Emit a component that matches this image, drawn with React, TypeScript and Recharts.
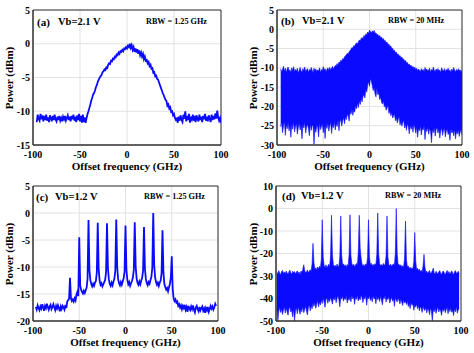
import React from 'react';
import { ComposedChart, Line, Area, XAxis, YAxis, CartesianGrid, ReferenceArea } from 'recharts';

// ---------- data ----------
const xTicks = [-100, -50, 0, 50, 100];

// (a) Vb=2.1 V, RBW 1.25 GHz, samples every 1 GHz starting at -96 GHz
const startA = -96;
const powerA = [
  -11.6,-10.5,-11.1,-11.4,-10.4,-11.2,-10.6,-11.5,-10.7,-11.3,
  -10.5,-11.4,-10.9,-11.6,-10.6,-11.0,-11.5,-10.7,-11.3,-10.5,
  -11.2,-11.5,-10.8,-11.3,-10.7,-11.4,-11.0,-11.5,-10.8,-11.2,
  -10.7,-11.4,-11.0,-10.6,-11.3,-10.8,-11.5,-10.7,-11.2,-10.5,
  -11.4,-10.8,-11.6,-10.6,-11.3,-10.4,-11.5,-10.7,-11.7,-10.5,
  -11.6,-10.9,-11.7,-11.0,-10.4,-10.0,-9.5,-9.0,-8.4,-8.0,
  -7.5,-7.3,-6.9,-6.4,-6.1,-5.6,-5.3,-5.0,-4.8,-4.6,
  -4.2,-4.1,-3.8,-3.9,-3.5,-3.6,-3.1,-2.9,-3.0,-2.5,
  -2.6,-2.2,-2.3,-1.9,-2.0,-1.6,-1.7,-1.3,-1.5,-1.1,
  -1.2,-0.9,-1.1,-0.7,-0.8,-0.5,-0.7,-0.3,-0.5,0.0,
  -0.6,-0.2,-0.9,-0.5,-1.2,-0.7,-1.3,-0.8,-1.5,-1.0,
  -1.7,-1.3,-1.9,-1.5,-2.3,-1.9,-2.5,-2.4,-2.9,-2.7,
  -3.3,-3.1,-3.7,-3.6,-4.3,-4.2,-4.8,-4.7,-5.2,-5.3,
  -5.7,-6.1,-6.5,-6.9,-7.3,-7.6,-8.0,-8.3,-8.5,-9.2,
  -9.0,-9.6,-9.4,-10.1,-10.0,-10.6,-10.4,-11.0,-11.3,-11.1,
  -11.7,-10.8,-11.4,-10.6,-11.3,-11.6,-10.5,-11.1,-10.0,-11.5,
  -10.7,-11.3,-10.4,-11.7,-10.8,-11.2,-10.5,-11.4,-10.7,-11.6,
  -10.6,-11.1,-11.5,-10.5,-11.3,-10.8,-11.6,-10.7,-11.2,-10.4,
  -11.4,-10.8,-11.5,-10.6,-11.1,-11.6,-10.5,-11.3,-10.7,-11.2,
  -10.3,-11.1,-9.9,-10.9,-11.4,-11.0,-11.7,
];

// (b) Vb=2.1 V, RBW 20 MHz: upper / lower envelope, every 1 GHz from -96 GHz
const startB = -96;
const upperB = [
  -10.2,-11.0,-10.4,-9.6,-10.8,-10.1,-11.2,-10.3,-9.8,-10.9,
  -10.5,-11.3,-10.0,-10.7,-9.7,-11.0,-10.4,-10.9,-10.1,-11.4,
  -10.6,-9.9,-10.8,-11.1,-10.2,-10.7,-9.8,-11.0,-10.5,-10.2,
  -11.2,-10.4,-10.8,-9.9,-10.6,-11.3,-10.1,-10.7,-10.3,-11.0,
  -10.5,-10.9,-10.0,-11.2,-10.4,-10.8,-9.7,-10.6,-10.2,-11.0,
  -10.4,-10.0,-10.7,-9.9,-10.5,-10.1,-9.6,-10.3,-9.8,-9.4,
  -9.5,-8.9,-9.3,-8.5,-8.7,-8.0,-8.3,-7.6,-7.8,-7.1,
  -6.9,-6.6,-6.2,-6.4,-5.8,-5.5,-5.2,-4.7,-4.9,-4.2,
  -4.4,-3.8,-3.5,-3.9,-3.2,-2.8,-3.0,-2.4,-2.1,-2.5,
  -1.6,-1.9,-1.2,-1.4,-0.7,-1.1,-0.2,-0.6,-1.0,-0.4,
  -0.8,-0.3,-1.1,-0.9,-1.5,-1.3,-1.9,-1.6,-2.2,-2.0,
  -2.6,-2.4,-3.0,-2.9,-3.5,-3.3,-4.0,-3.8,-4.5,-4.3,
  -5.0,-4.9,-5.6,-5.4,-6.1,-5.9,-6.5,-6.4,-7.0,-6.8,
  -7.4,-7.2,-7.8,-7.7,-8.3,-8.1,-8.7,-8.6,-9.2,-9.0,
  -9.5,-9.3,-9.9,-9.6,-10.2,-9.8,-10.5,-10.1,-10.8,-10.3,
  -10.6,-11.0,-10.2,-10.7,-10.4,-11.1,-9.9,-10.6,-10.3,-10.9,
  -10.5,-10.1,-11.2,-10.4,-10.8,-9.8,-10.6,-11.0,-10.3,-10.7,
  -10.2,-10.9,-10.5,-11.3,-10.0,-10.6,-10.8,-10.2,-11.1,-10.4,
  -10.7,-10.1,-10.9,-10.5,-11.2,-10.3,-10.8,-9.9,-10.6,-11.0,
  -10.4,-10.9,-10.2,-10.7,-10.5,-11.1,-10.6,
];
const lowerB = [
  -25.3,-24.1,-26.8,-25.0,-23.9,-27.5,-24.6,-25.8,-24.2,-26.3,
  -25.1,-28.0,-24.5,-25.9,-24.0,-26.6,-25.2,-24.4,-27.2,-25.5,
  -24.3,-26.1,-25.0,-28.4,-24.7,-25.6,-24.1,-26.9,-25.3,-24.6,
  -25.8,-27.6,-24.4,-26.2,-25.1,-24.8,-29.8,-25.5,-26.7,-24.9,
  -25.4,-27.9,-24.2,-26.0,-25.2,-24.5,-26.8,-25.0,-28.3,-24.6,
  -25.7,-24.3,-26.4,-25.1,-24.0,-27.0,-24.8,-25.5,-23.9,-26.1,
  -24.4,-25.2,-23.6,-26.3,-24.0,-23.3,-25.1,-23.7,-22.9,-24.5,
  -22.8,-23.4,-21.9,-22.6,-23.8,-21.4,-22.0,-20.7,-22.3,-20.9,
  -21.5,-19.8,-20.6,-19.2,-20.3,-18.6,-19.5,-18.0,-18.8,-17.4,
  -16.9,-17.8,-15.6,-16.3,-14.5,-13.6,-14.8,-12.8,-13.5,-14.6,
  -15.9,-15.1,-16.8,-17.5,-15.3,-17.0,-16.4,-18.2,-17.6,-18.9,
  -19.4,-18.5,-20.1,-19.6,-21.0,-20.4,-19.7,-21.8,-21.2,-22.4,
  -21.6,-23.0,-22.5,-21.9,-23.7,-22.8,-24.3,-23.4,-22.6,-24.8,
  -23.9,-25.1,-24.2,-23.5,-25.6,-24.7,-26.2,-24.4,-25.3,-27.1,
  -24.8,-25.9,-25.0,-26.7,-24.6,-25.5,-26.9,-25.2,-28.0,-25.7,
  -26.3,-24.9,-27.4,-25.6,-26.1,-25.0,-28.6,-25.8,-26.5,-25.3,
  -27.2,-25.7,-26.4,-29.4,-25.9,-26.8,-25.4,-27.7,-26.0,-25.5,
  -26.9,-25.8,-28.2,-26.3,-25.6,-27.5,-26.1,-25.7,-27.9,-26.4,
  -25.9,-27.3,-26.6,-28.8,-25.8,-26.9,-26.2,-27.6,-25.9,-28.4,
  -26.5,-27.1,-26.0,-27.8,-26.7,-25.9,-27.4,
];

// (c) Vb=1.2 V, RBW 1.25 GHz, every 1 GHz from -97 GHz
const startC = -97;
const powerC = [
  -17.4,-17.9,-17.1,-17.6,-18.0,-17.3,-17.7,-16.9,-17.5,-18.1,
  -17.2,-17.6,-16.8,-17.4,-17.9,-17.3,-17.0,-17.8,-17.4,-16.9,
  -17.5,-18.0,-17.2,-17.7,-17.1,-17.6,-18.2,-17.3,-17.8,-17.2,
  -17.5,-17.9,-17.0,-17.6,-16.4,-16.1,-15.9,-12.0,-15.8,-16.3,
  -16.0,-16.4,-15.8,-16.2,-15.1,-14.6,-15.4,-4.5,-13.4,-14.2,
  -14.6,-14.9,-14.4,-14.8,-14.3,-13.8,-12.1,-1.3,-10.6,-12.4,
  -13.2,-13.6,-13.1,-13.5,-12.9,-12.6,-11.0,-1.8,-10.4,-12.5,
  -13.3,-13.0,-13.6,-13.2,-12.8,-12.4,-10.9,-1.9,-10.2,-12.3,
  -13.1,-13.5,-12.9,-13.4,-12.7,-12.2,-10.6,-1.2,-10.0,-12.2,
  -13.0,-13.4,-12.8,-13.3,-12.7,-12.1,-10.8,-2.3,-10.5,-12.4,
  -13.2,-12.8,-13.5,-13.0,-12.6,-11.9,-10.5,-1.7,-9.9,-12.1,
  -12.9,-13.3,-12.7,-13.2,-12.5,-12.0,-10.7,-2.6,-10.3,-12.2,
  -13.0,-13.4,-12.8,-13.1,-12.4,-11.8,-10.1,0.0,-9.6,-11.9,
  -12.8,-13.3,-12.9,-13.5,-12.9,-12.5,-11.2,-3.2,-11.0,-13.1,
  -13.7,-14.2,-13.9,-14.5,-13.8,-13.1,-12.0,-8.0,-14.0,-15.8,
  -16.3,-16.0,-16.6,-16.4,-17.2,-16.9,-17.5,-17.1,-17.8,-17.2,
  -17.6,-17.0,-17.9,-17.4,-18.3,-17.2,-17.7,-18.0,-17.3,-17.8,
  -17.1,-17.9,-18.4,-17.5,-17.2,-17.8,-18.2,-17.4,-18.0,-17.6,
  -17.3,-18.1,-17.7,-18.5,-17.6,-18.0,-17.4,-18.3,-17.8,-17.2,
  -17.7,-17.3,-17.9,-17.5,-16.8,-17.2,
];

// (d) Vb=1.2 V, RBW 20 MHz: upper / lower envelope, every 1 GHz from -99 GHz
const startD = -99;
const upperD = [
  -28.3,-29.1,-27.6,-28.8,-29.4,-28.0,-27.5,-28.9,-28.2,-29.0,
  -27.8,-28.6,-29.3,-28.1,-27.4,-28.7,-29.2,-27.9,-28.5,-28.0,
  -29.1,-28.3,-27.7,-28.9,-28.2,-29.4,-27.8,-28.4,-27.0,-25.0,
  -27.6,-28.7,-28.1,-27.3,-28.6,-27.9,-27.2,-28.0,-24.5,-15.5,
  -24.0,-27.1,-26.3,-27.4,-26.0,-26.8,-25.7,-26.5,-22.5,-5.0,
  -21.5,-25.3,-26.2,-25.0,-26.4,-25.6,-24.8,-26.0,-21.0,-3.0,
  -20.5,-24.9,-25.8,-25.2,-26.1,-24.7,-25.5,-25.9,-21.3,-3.3,
  -20.8,-25.1,-24.6,-25.7,-25.0,-26.2,-24.9,-25.4,-20.6,-2.8,
  -21.0,-24.5,-25.6,-24.8,-25.9,-25.1,-24.4,-25.3,-19.0,-3.0,
  -17.5,-22.0,-24.7,-25.5,-24.9,-25.8,-24.6,-25.2,-21.4,-5.0,
  -21.2,-25.0,-24.3,-25.6,-24.8,-25.4,-24.5,-25.1,-20.3,-2.0,
  -20.0,-24.6,-25.3,-24.9,-25.7,-24.4,-25.2,-24.8,-21.0,-3.3,
  -21.5,-24.9,-25.5,-24.7,-25.8,-25.0,-24.6,-25.3,-20.0,0.0,
  -19.8,-25.1,-24.8,-25.6,-25.0,-26.1,-25.4,-25.9,-22.0,-5.6,
  -22.5,-26.0,-25.5,-26.6,-26.1,-27.0,-26.3,-26.9,-23.5,-10.7,
  -23.0,-27.2,-26.5,-27.6,-27.0,-28.1,-27.4,-28.3,-25.5,-20.4,
  -26.0,-28.5,-27.8,-28.9,-28.2,-27.5,-29.1,-28.4,-27.7,-26.5,
  -28.6,-29.2,-27.9,-28.5,-29.0,-28.2,-27.6,-28.8,-29.3,-28.1,
  -27.8,-28.7,-29.4,-28.3,-27.5,-28.9,-28.0,-29.2,-28.4,-27.7,
  -28.8,-29.3,-28.1,-27.6,-28.9,-28.4,-27.9,-29.0,
];
const lowerD = [
  -44.5,-50.0,-45.8,-43.9,-46.2,-44.8,-47.1,-45.3,-43.6,-46.5,
  -44.2,-45.9,-47.4,-44.7,-43.8,-46.0,-45.1,-48.2,-44.4,-50.0,
  -45.6,-44.1,-46.8,-43.7,-45.4,-47.0,-44.6,-45.9,-43.5,-46.3,
  -44.9,-43.4,-45.7,-47.3,-44.0,-42.8,-45.5,-43.2,-44.6,-42.0,
  -43.5,-41.8,-44.3,-42.6,-40.9,-43.8,-41.5,-42.9,-40.6,-42.2,
  -39.8,-41.6,-43.9,-40.5,-39.6,-42.1,-40.2,-41.4,-39.3,-40.8,
  -42.5,-39.5,-40.7,-39.1,-41.9,-40.0,-38.8,-40.6,-43.7,-39.4,
  -40.3,-38.9,-41.2,-39.7,-40.5,-38.6,-42.0,-39.9,-40.8,-39.2,
  -41.5,-38.7,-40.1,-39.4,-42.6,-39.0,-40.4,-38.5,-41.1,-39.8,
  -40.6,-38.4,-39.7,-41.8,-39.2,-40.3,-38.6,-43.0,-39.5,-40.1,
  -38.8,-40.9,-39.3,-41.5,-38.7,-40.2,-39.6,-42.3,-39.0,-40.5,
  -39.4,-41.3,-38.9,-40.7,-42.8,-39.5,-40.1,-38.7,-41.6,-39.9,
  -40.4,-39.1,-42.0,-40.6,-39.3,-41.2,-40.0,-43.5,-39.6,-40.8,
  -41.5,-39.8,-40.9,-42.4,-40.3,-41.7,-43.1,-40.6,-42.0,-41.2,
  -42.7,-41.0,-43.6,-42.2,-44.5,-41.8,-43.0,-42.5,-45.2,-42.9,
  -43.8,-42.4,-44.6,-43.1,-45.5,-43.7,-44.3,-46.2,-43.4,-44.9,
  -45.3,-43.9,-46.4,-44.5,-45.0,-47.2,-44.2,-45.6,-50.0,-44.8,
  -45.9,-44.3,-46.6,-45.1,-43.8,-46.0,-44.7,-45.4,-47.5,-44.6,
  -45.7,-44.1,-46.3,-45.0,-43.9,-46.8,-44.5,-45.8,-44.2,-46.1,
  -45.2,-47.6,-44.4,-45.9,-43.7,-46.5,-45.1,-44.6,
];

const yTicksA = [-15, -10, -5, 0, 5];
const yTicksB = [-30, -25, -20, -15, -10, -5, 0, 5];
const yTicksC = [-20, -15, -10, -5, 0, 5];
const yTicksD = [-50, -40, -30, -20, -10, 0, 10];

// ---------- tables ----------
const lineRows = (start: number, vals: number[]) => vals.map((v, i) => ({ f: start + i, v }));
const bandRows = (start: number, hi: number[], lo: number[]) =>
  hi.map((h, i) => ({ f: start + i, band: [lo[i], h] }));

const dataA = lineRows(startA, powerA);
const dataB = bandRows(startB, upperB, lowerB);
const dataC = lineRows(startC, powerC);
const dataD = bandRows(startD, upperD, lowerD);

// ---------- styling ----------
const SERIF = '"Liberation Serif", "Times New Roman", serif';
const BLUE = '#0a0aff';
const FRAME = '#333';
const tickStyle = { fontFamily: SERIF, fontWeight: 700, fontSize: 10, fill: '#000' };

type PanelProps = {
  left: number; top: number; width: number; height: number;
  margin: { top: number; right: number; bottom: number; left: number };
  yWidth: number; yTicks: number[]; data: any[]; band?: boolean;
};

function Panel({ left, top, width, height, margin, yWidth, yTicks, data, band }: PanelProps) {
  const yMin = yTicks[0];
  const yMax = yTicks[yTicks.length - 1];
  return (
    <div style={{ position: 'absolute', left, top, width, height }}>
      <ComposedChart width={width} height={height} data={data} margin={margin}>
        <CartesianGrid stroke="#e2e2e2" strokeWidth={1} />
        <XAxis
          dataKey="f" type="number" domain={[-100, 100]} ticks={xTicks} interval={0}
          allowDataOverflow height={30} axisLine={{ stroke: FRAME }} tickLine={false}
          tickSize={0} tickMargin={6} tick={tickStyle}
        />
        <YAxis
          type="number" domain={[yMin, yMax]} ticks={yTicks} interval={0}
          allowDataOverflow width={yWidth} axisLine={{ stroke: FRAME }} tickLine={false}
          tickSize={0} tickMargin={3} tick={tickStyle}
        />
        {band ? (
          <Area
            dataKey="band" type="linear" stroke={BLUE} strokeWidth={0.6}
            fill={BLUE} fillOpacity={1} isAnimationActive={false} dot={false} activeDot={false}
          />
        ) : (
          <Line
            dataKey="v" type="linear" stroke={BLUE} strokeWidth={1.8}
            dot={false} activeDot={false} isAnimationActive={false}
          />
        )}
        <ReferenceArea x1={-100} x2={100} y1={yMin} y2={yMax} fill="none" fillOpacity={0} stroke={FRAME} strokeWidth={1} ifOverflow="visible" />
      </ComposedChart>
    </div>
  );
}

function Txt({ x, y, size, children }: { x: number; y: number; size: number; children: React.ReactNode }) {
  return (
    <div style={{
      position: 'absolute', left: x, top: y - size / 2, fontFamily: SERIF, fontWeight: 700,
      fontSize: size, lineHeight: `${size}px`, whiteSpace: 'nowrap', color: '#000',
    }}>{children}</div>
  );
}

function XTitle({ cx, cy }: { cx: number; cy: number }) {
  return (
    <div style={{
      position: 'absolute', left: cx - 80, top: cy - 6, width: 160, textAlign: 'center',
      fontFamily: SERIF, fontWeight: 700, fontSize: 11, lineHeight: '12px', color: '#000', whiteSpace: 'nowrap',
    }}>Offset frequency (GHz)</div>
  );
}

function YTitle({ cx, cy }: { cx: number; cy: number }) {
  return (
    <div style={{
      position: 'absolute', left: cx - 50, top: cy - 6, width: 100, textAlign: 'center',
      fontFamily: SERIF, fontWeight: 700, fontSize: 11, lineHeight: '12px', color: '#000',
      whiteSpace: 'nowrap', transform: 'rotate(-90deg)',
    }}>Power (dBm)</div>
  );
}

export default function App() {
  return (
    <div style={{ position: 'absolute', left: 0, top: 0, width: 474, height: 353, background: '#fff', overflow: 'hidden' }}>
      <Panel left={0} top={0} width={237} height={176} margin={{ top: 10, right: 16, bottom: 1, left: 0 }}
        yWidth={33} yTicks={yTicksA} data={dataA} />
      <Panel left={237} top={0} width={237} height={176} margin={{ top: 10, right: 12, bottom: 1, left: 0 }}
        yWidth={40} yTicks={yTicksB} data={dataB} band />
      <Panel left={0} top={176} width={237} height={177} margin={{ top: 10, right: 19, bottom: 2, left: 0 }}
        yWidth={33} yTicks={yTicksC} data={dataC} />
      <Panel left={237} top={176} width={237} height={177} margin={{ top: 10, right: 13, bottom: 2, left: 0 }}
        yWidth={39} yTicks={yTicksD} data={dataD} band />

      <Txt x={37} y={22} size={11}>(a)</Txt>
      <Txt x={58} y={22} size={10.5}>Vb=2.1 V</Txt>
      <Txt x={146} y={22} size={8.2}>RBW = 1.25 GHz</Txt>

      <Txt x={281} y={21.5} size={11}>(b)</Txt>
      <Txt x={302} y={21.5} size={10.5}>Vb=2.1 V</Txt>
      <Txt x={388} y={21.5} size={8.2}>RBW = 20 MHz</Txt>

      <Txt x={36} y={197} size={11}>(c)</Txt>
      <Txt x={55} y={197} size={10.5}>Vb=1.2 V</Txt>
      <Txt x={144} y={197} size={8.2}>RBW = 1.25 GHz</Txt>

      <Txt x={282} y={196.5} size={11}>(d)</Txt>
      <Txt x={301} y={196.5} size={10.5}>Vb=1.2 V</Txt>
      <Txt x={385} y={196.5} size={8.2}>RBW = 20 MHz</Txt>

      <XTitle cx={127} cy={166} />
      <XTitle cx={369.5} cy={166} />
      <XTitle cx={125.5} cy={342} />
      <XTitle cx={368.5} cy={342} />

      <YTitle cx={9} cy={77.5} />
      <YTitle cx={253} cy={77.5} />
      <YTitle cx={9} cy={253.5} />
      <YTitle cx={253} cy={253.5} />
    </div>
  );
}
